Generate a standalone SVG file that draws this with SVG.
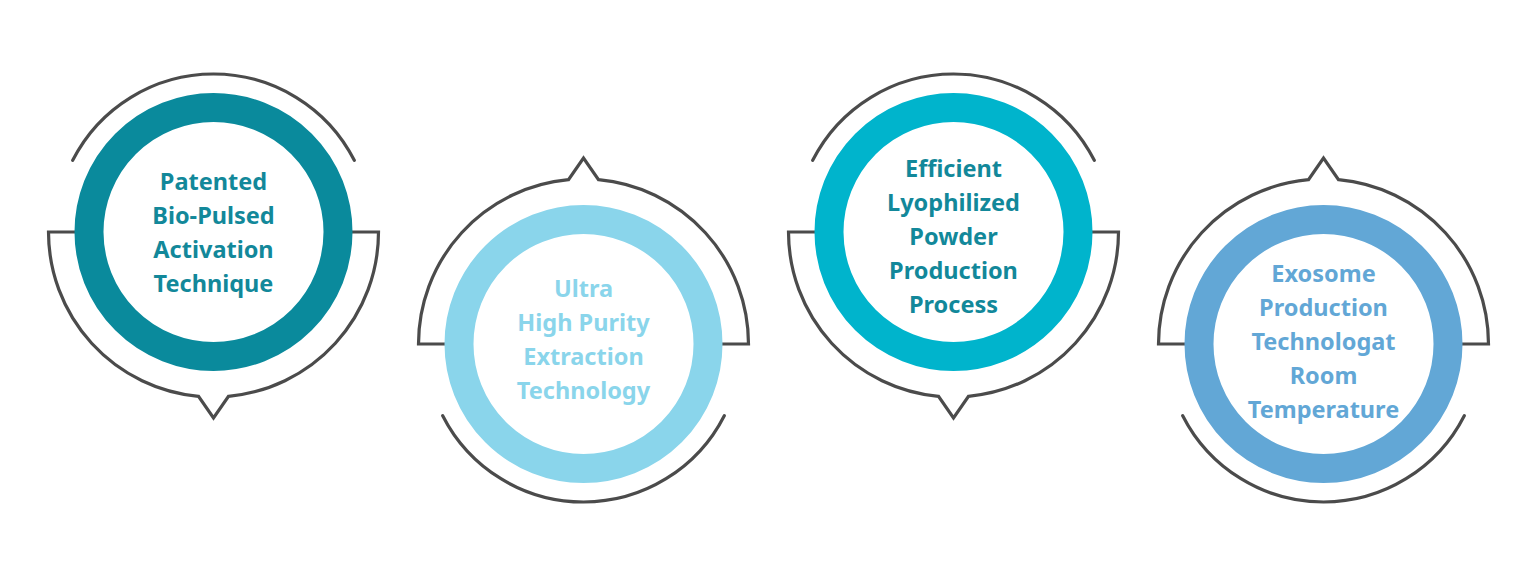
<svg xmlns="http://www.w3.org/2000/svg" width="1536" height="576" viewBox="0 0 1536 576">
<style>
.frame{fill:none;stroke:#4b4b4b;stroke-width:3.2;stroke-linecap:round;stroke-linejoin:miter}
.ring{fill:none;stroke-width:29}
.lbl{font-family:"Noto Sans","Open Sans","DejaVu Sans",sans-serif;font-weight:700;font-size:23.5px;text-anchor:middle}
</style>
<rect width="1536" height="576" fill="#ffffff"/>
<g id="connectors"></g>
<g id="node1">
<path class="frame" d="M 72.7 160.3 A 158 158 0 0 1 354.3 160.3"/>
<path class="frame" d="M 76 232 H 48.5 A 165 165 0 0 0 198.5 396.3 L 213.5 418 L 228.5 396.3 A 165 165 0 0 0 378.5 232 H 351"/>
<circle class="ring" cx="213.5" cy="232" r="124.5" stroke="#0a8a9c"/>
<text class="lbl" fill="#12889a" x="213.5"><tspan x="213.5" y="190">Patented</tspan><tspan x="213.5" y="224">Bio-Pulsed</tspan><tspan x="213.5" y="258">Activation</tspan><tspan x="213.5" y="292">Technique</tspan></text>
</g>
<g id="node2">
<path class="frame" d="M 446 344 H 418.5 A 165 165 0 0 1 568.5 179.7 L 583.5 158 L 598.5 179.7 A 165 165 0 0 1 748.5 344 H 721"/>
<path class="frame" d="M 442.7 415.7 A 158 158 0 0 0 724.3 415.7"/>
<circle class="ring" cx="583.5" cy="344" r="124.5" stroke="#8ad5eb"/>
<text class="lbl" fill="#8ad5eb"><tspan x="583.5" y="297">Ultra</tspan><tspan x="583.5" y="331">High Purity</tspan><tspan x="583.5" y="365">Extraction</tspan><tspan x="583.5" y="399">Technology</tspan></text>
</g>
<g id="node3">
<path class="frame" d="M 812.7 160.3 A 158 158 0 0 1 1094.3 160.3"/>
<path class="frame" d="M 816 232 H 788.5 A 165 165 0 0 0 938.5 396.3 L 953.5 418 L 968.5 396.3 A 165 165 0 0 0 1118.5 232 H 1091"/>
<circle class="ring" cx="953.5" cy="232" r="124.5" stroke="#00b4cc"/>
<text class="lbl" fill="#12889a"><tspan x="953.5" y="177">Efficient</tspan><tspan x="953.5" y="211">Lyophilized</tspan><tspan x="953.5" y="245">Powder</tspan><tspan x="953.5" y="279">Production</tspan><tspan x="953.5" y="313">Process</tspan></text>
</g>
<g id="node4">
<path class="frame" d="M 1186 344 H 1158.5 A 165 165 0 0 1 1308.5 179.7 L 1323.5 158 L 1338.5 179.7 A 165 165 0 0 1 1488.5 344 H 1461"/>
<path class="frame" d="M 1182.7 415.7 A 158 158 0 0 0 1464.3 415.7"/>
<circle class="ring" cx="1323.5" cy="344" r="124.5" stroke="#62a7d6"/>
<text class="lbl" fill="#62a7d6"><tspan x="1323.5" y="282">Exosome</tspan><tspan x="1323.5" y="316">Production</tspan><tspan x="1323.5" y="350">Technologat</tspan><tspan x="1323.5" y="384">Room</tspan><tspan x="1323.5" y="418">Temperature</tspan></text>
</g>
</svg>
